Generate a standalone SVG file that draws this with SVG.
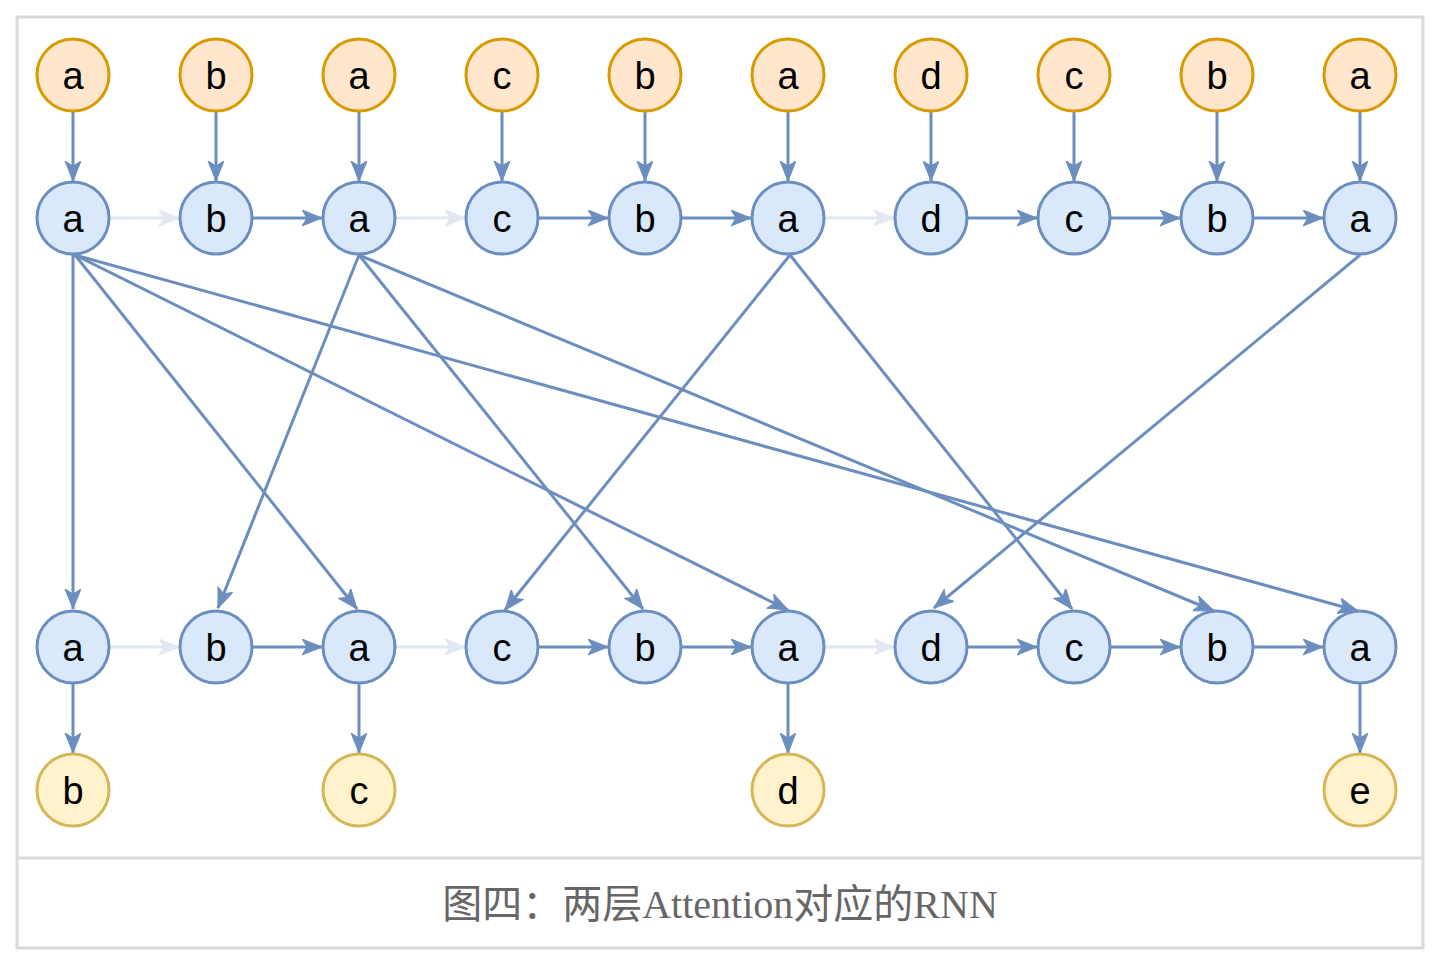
<svg xmlns="http://www.w3.org/2000/svg" width="1440" height="968" viewBox="0 0 1440 968">
<style>
.o{fill:#ffe6cc;stroke:#d79b00;stroke-width:3}
.b{fill:#dae8fc;stroke:#6c8ebf;stroke-width:3}
.y{fill:#fff2cc;stroke:#d6b656;stroke-width:3}
.t{font-family:"Liberation Sans",Arial,sans-serif;font-size:38px;text-anchor:middle;fill:#000}
.e{stroke:#6c8ebf;stroke-width:3;fill:none;marker-end:url(#ar)}
.f{stroke:#6c8ebf;stroke-width:3;fill:none;opacity:0.2;marker-end:url(#ar)}
</style>
<defs>
<marker id="ar" markerUnits="userSpaceOnUse" markerWidth="24" markerHeight="20" refX="20" refY="8" orient="auto" viewBox="0 0 24 20">
<path d="M0,0 L20,8 L0,16 L5,8 z" fill="#6c8ebf" stroke="#6c8ebf" stroke-width="1"/>
</marker>
</defs>
<rect x="0" y="0" width="1440" height="968" fill="#fff"/>
<rect x="17" y="17" width="1406" height="931" fill="none" stroke="#d9d9d9" stroke-width="3"/>
<line x1="17" y1="858" x2="1423" y2="858" stroke="#d9d9d9" stroke-width="3"/>
<g id="connectors">
<line class="e" x1="73" y1="112" x2="73" y2="181"/>
<line class="e" x1="216" y1="112" x2="216" y2="181"/>
<line class="e" x1="359" y1="112" x2="359" y2="181"/>
<line class="e" x1="502" y1="112" x2="502" y2="181"/>
<line class="e" x1="645" y1="112" x2="645" y2="181"/>
<line class="e" x1="788" y1="112" x2="788" y2="181"/>
<line class="e" x1="931" y1="112" x2="931" y2="181"/>
<line class="e" x1="1074" y1="112" x2="1074" y2="181"/>
<line class="e" x1="1217" y1="112" x2="1217" y2="181"/>
<line class="e" x1="1360" y1="112" x2="1360" y2="181"/>
<line class="f" x1="110" y1="218" x2="179" y2="218"/>
<line class="e" x1="253" y1="218" x2="322" y2="218"/>
<line class="f" x1="396" y1="218" x2="465" y2="218"/>
<line class="e" x1="539" y1="218" x2="608" y2="218"/>
<line class="e" x1="682" y1="218" x2="751" y2="218"/>
<line class="f" x1="825" y1="218" x2="894" y2="218"/>
<line class="e" x1="968" y1="218" x2="1037" y2="218"/>
<line class="e" x1="1111" y1="218" x2="1180" y2="218"/>
<line class="e" x1="1254" y1="218" x2="1323" y2="218"/>
<line class="f" x1="110" y1="647" x2="179" y2="647"/>
<line class="e" x1="253" y1="647" x2="322" y2="647"/>
<line class="f" x1="396" y1="647" x2="465" y2="647"/>
<line class="e" x1="539" y1="647" x2="608" y2="647"/>
<line class="e" x1="682" y1="647" x2="751" y2="647"/>
<line class="f" x1="825" y1="647" x2="894" y2="647"/>
<line class="e" x1="968" y1="647" x2="1037" y2="647"/>
<line class="e" x1="1111" y1="647" x2="1180" y2="647"/>
<line class="e" x1="1254" y1="647" x2="1323" y2="647"/>
<line class="e" x1="73" y1="684" x2="73" y2="753"/>
<line class="e" x1="359" y1="684" x2="359" y2="753"/>
<line class="e" x1="788" y1="684" x2="788" y2="753"/>
<line class="e" x1="1360" y1="684" x2="1360" y2="753"/>
<line class="e" x1="73" y1="255" x2="73" y2="609"/>
<line class="e" x1="75" y1="255" x2="357" y2="609"/>
<line class="e" x1="75" y1="255" x2="788" y2="610"/>
<line class="e" x1="75" y1="255" x2="1358" y2="611"/>
<line class="e" x1="359" y1="255" x2="218" y2="608"/>
<line class="e" x1="359" y1="255" x2="643" y2="609"/>
<line class="e" x1="359" y1="255" x2="1214" y2="611"/>
<line class="e" x1="790" y1="255" x2="505" y2="610"/>
<line class="e" x1="790" y1="255" x2="1072" y2="609"/>
<line class="e" x1="1360" y1="255" x2="934" y2="608"/>
</g>
<g id="in1"><circle class="o" cx="73" cy="75" r="36"/><text class="t" x="73" y="89">a</text></g>
<g id="in2"><circle class="o" cx="216" cy="75" r="36"/><text class="t" x="216" y="89">b</text></g>
<g id="in3"><circle class="o" cx="359" cy="75" r="36"/><text class="t" x="359" y="89">a</text></g>
<g id="in4"><circle class="o" cx="502" cy="75" r="36"/><text class="t" x="502" y="89">c</text></g>
<g id="in5"><circle class="o" cx="645" cy="75" r="36"/><text class="t" x="645" y="89">b</text></g>
<g id="in6"><circle class="o" cx="788" cy="75" r="36"/><text class="t" x="788" y="89">a</text></g>
<g id="in7"><circle class="o" cx="931" cy="75" r="36"/><text class="t" x="931" y="89">d</text></g>
<g id="in8"><circle class="o" cx="1074" cy="75" r="36"/><text class="t" x="1074" y="89">c</text></g>
<g id="in9"><circle class="o" cx="1217" cy="75" r="36"/><text class="t" x="1217" y="89">b</text></g>
<g id="in10"><circle class="o" cx="1360" cy="75" r="36"/><text class="t" x="1360" y="89">a</text></g>
<g id="h1"><circle class="b" cx="73" cy="218" r="36"/><text class="t" x="73" y="232">a</text></g>
<g id="h2"><circle class="b" cx="216" cy="218" r="36"/><text class="t" x="216" y="232">b</text></g>
<g id="h3"><circle class="b" cx="359" cy="218" r="36"/><text class="t" x="359" y="232">a</text></g>
<g id="h4"><circle class="b" cx="502" cy="218" r="36"/><text class="t" x="502" y="232">c</text></g>
<g id="h5"><circle class="b" cx="645" cy="218" r="36"/><text class="t" x="645" y="232">b</text></g>
<g id="h6"><circle class="b" cx="788" cy="218" r="36"/><text class="t" x="788" y="232">a</text></g>
<g id="h7"><circle class="b" cx="931" cy="218" r="36"/><text class="t" x="931" y="232">d</text></g>
<g id="h8"><circle class="b" cx="1074" cy="218" r="36"/><text class="t" x="1074" y="232">c</text></g>
<g id="h9"><circle class="b" cx="1217" cy="218" r="36"/><text class="t" x="1217" y="232">b</text></g>
<g id="h10"><circle class="b" cx="1360" cy="218" r="36"/><text class="t" x="1360" y="232">a</text></g>
<g id="g1"><circle class="b" cx="73" cy="647" r="36"/><text class="t" x="73" y="661">a</text></g>
<g id="g2"><circle class="b" cx="216" cy="647" r="36"/><text class="t" x="216" y="661">b</text></g>
<g id="g3"><circle class="b" cx="359" cy="647" r="36"/><text class="t" x="359" y="661">a</text></g>
<g id="g4"><circle class="b" cx="502" cy="647" r="36"/><text class="t" x="502" y="661">c</text></g>
<g id="g5"><circle class="b" cx="645" cy="647" r="36"/><text class="t" x="645" y="661">b</text></g>
<g id="g6"><circle class="b" cx="788" cy="647" r="36"/><text class="t" x="788" y="661">a</text></g>
<g id="g7"><circle class="b" cx="931" cy="647" r="36"/><text class="t" x="931" y="661">d</text></g>
<g id="g8"><circle class="b" cx="1074" cy="647" r="36"/><text class="t" x="1074" y="661">c</text></g>
<g id="g9"><circle class="b" cx="1217" cy="647" r="36"/><text class="t" x="1217" y="661">b</text></g>
<g id="g10"><circle class="b" cx="1360" cy="647" r="36"/><text class="t" x="1360" y="661">a</text></g>
<g id="out1"><circle class="y" cx="73" cy="790" r="36"/><text class="t" x="73" y="804">b</text></g>
<g id="out3"><circle class="y" cx="359" cy="790" r="36"/><text class="t" x="359" y="804">c</text></g>
<g id="out6"><circle class="y" cx="788" cy="790" r="36"/><text class="t" x="788" y="804">d</text></g>
<g id="out10"><circle class="y" cx="1360" cy="790" r="36"/><text class="t" x="1360" y="804">e</text></g>
<text x="720" y="918" text-anchor="middle" font-family="'Liberation Serif','Noto Sans CJK SC',serif" font-size="40" fill="#666">图四：两层Attention对应的RNN</text>
</svg>
